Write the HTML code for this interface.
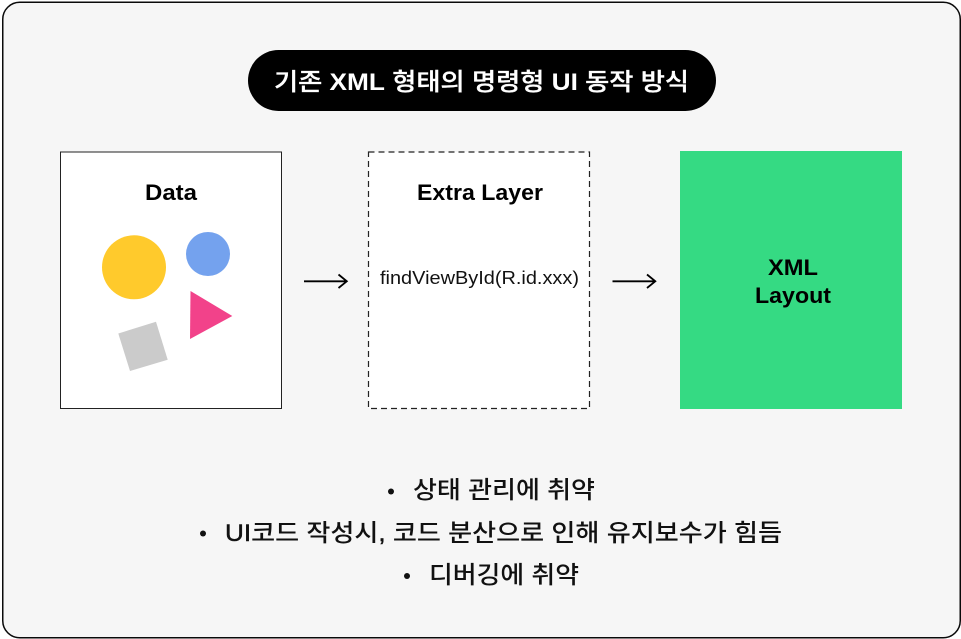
<!DOCTYPE html>
<html lang="ko">
<head>
<meta charset="utf-8">
<title>기존 XML 형태의 명령형 UI 동작 방식</title>
<style>
html,body{margin:0;padding:0;background:#fff}
svg{display:block}
text{font-family:"Liberation Sans","Noto Sans CJK KR",sans-serif;fill:#000}
.h{font-size:22px;font-weight:700}
.b{font-size:24px;font-weight:500;fill:#111}
.lat{font-weight:400;stroke:#111;stroke-width:.45px}
.t{font-size:24px;font-weight:500;fill:#fff;stroke:#fff;stroke-width:.3px}
.tl{font-weight:700;stroke:none}
</style>
</head>
<body>
<svg width="961" height="639" viewBox="0 0 961 639" xmlns="http://www.w3.org/2000/svg">
<rect x="2.75" y="2.25" width="957.5" height="635.5" rx="17" fill="#f6f6f6" stroke="#0a0a0a" stroke-width="1.5"/>
<rect x="248" y="50" width="468" height="61" rx="30.5" fill="#000"/>
<text x="274" y="90" class="t" textLength="415" lengthAdjust="spacingAndGlyphs">기존 <tspan class="tl">XML</tspan> 형태의 명령형 <tspan class="tl">UI</tspan> 동작 방식</text>

<rect x="60.5" y="152" width="221" height="256.5" fill="#fff" stroke="#222" stroke-width="1"/>
<text x="145" y="200" class="h" textLength="52" lengthAdjust="spacingAndGlyphs">Data</text>
<circle cx="134" cy="267.3" r="32" fill="#ffca2c"/>
<circle cx="208" cy="254" r="22" fill="#74a2ee"/>
<polygon points="190.5,291 232.3,316 190,339" fill="#f2428a"/>
<polygon points="118.3,333.5 156,321.7 167.7,359.7 130,371" fill="#cbcbcb"/>

<path d="M304 281.3H347M338.5 274.5L346.8 281.3L338.5 288" fill="none" stroke="#000" stroke-width="1.8"/>

<rect x="368.5" y="152" width="221" height="256.5" fill="#fff" stroke="#222" stroke-width="1.2" stroke-dasharray="6 4"/>
<text x="417" y="200" class="h" textLength="126" lengthAdjust="spacingAndGlyphs">Extra Layer</text>
<text x="380" y="284" style="font-size:18px;fill:#111" textLength="199" lengthAdjust="spacingAndGlyphs">findViewById(R.id.xxx)</text>

<path d="M612.5 281.3H655.5M647 274.5L655.3 281.3L647 288" fill="none" stroke="#000" stroke-width="1.8"/>

<rect x="680" y="151" width="222" height="258" fill="#35da83"/>
<text x="768" y="275" class="h" textLength="50" lengthAdjust="spacingAndGlyphs">XML</text>
<text x="755" y="303" class="h" textLength="76" lengthAdjust="spacingAndGlyphs">Layout</text>

<circle cx="391" cy="491.5" r="3" fill="#111"/>
<text x="413" y="498" class="b" textLength="182" lengthAdjust="spacingAndGlyphs">상태 관리에 취약</text>
<circle cx="203" cy="533.5" r="3" fill="#111"/>
<text x="225" y="541" class="b" textLength="557" lengthAdjust="spacingAndGlyphs"><tspan class="lat">UI</tspan>코드 작성시<tspan class="lat">,</tspan> 코드 분산으로 인해 유지보수가 힘듬</text>
<circle cx="407" cy="576" r="3" fill="#111"/>
<text x="429" y="583" class="b" textLength="150" lengthAdjust="spacingAndGlyphs">디버깅에 취약</text>
</svg>
</body>
</html>
